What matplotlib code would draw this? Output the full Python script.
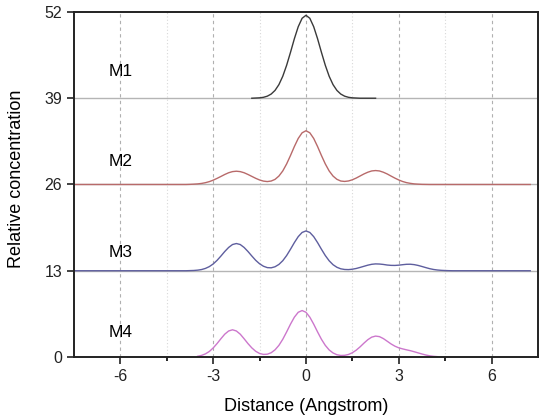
import numpy as np
import matplotlib
matplotlib.use("Agg")
import matplotlib.pyplot as plt

plt.rcParams['font.family'] = ['Liberation Sans', 'DejaVu Sans']
plt.rcParams['axes.unicode_minus'] = False

# sample grid (Angstrom) for the peak region
x_peak = np.arange(-3.75, 4.76, 0.125)

m1 = [0, 0, 0, 0, 0, 0, 0, 0, 0, 0, 0, 0, 0, 0, 0, 0, 0,
      0.03, 0.06, 0.14, 0.31, 0.63, 1.18, 2.05, 3.31, 4.97, 6.92, 8.97, 10.78, 12.05,
      12.5,
      12.05, 10.78, 8.97, 6.92, 4.97, 3.31, 2.05, 1.18, 0.63, 0.31, 0.14, 0.06, 0.03,
      0, 0, 0, 0, 0, 0, 0, 0, 0, 0, 0, 0, 0, 0, 0, 0, 0, 0, 0, 0, 0, 0, 0, 0, 0]
m2 = [0.02, 0.05, 0.09, 0.16, 0.27, 0.43, 0.65, 0.92, 1.21, 1.51, 1.77, 1.94,
      2.0, 1.94, 1.77, 1.51, 1.22, 0.93, 0.68, 0.51, 0.44, 0.52, 0.77, 1.27,
      2.04, 3.10, 4.37, 5.72, 6.94, 7.79, 8.1, 7.79, 6.94, 5.72, 4.37, 3.10,
      2.04, 1.27, 0.78, 0.52, 0.46, 0.53, 0.71, 0.97, 1.28, 1.59, 1.85, 2.04,
      2.1, 2.04, 1.85, 1.59, 1.27, 0.96, 0.68, 0.45, 0.28, 0.17, 0.09, 0.05,
      0.02, 0.01, 0, 0, 0, 0, 0, 0, 0]
m3 = [0.02, 0.04, 0.09, 0.18, 0.35, 0.62, 1.02, 1.56, 2.21, 2.90, 3.51, 3.95,
      4.10, 3.95, 3.51, 2.90, 2.22, 1.57, 1.05, 0.68, 0.47, 0.44, 0.60, 0.95,
      1.51, 2.29, 3.24, 4.24, 5.14, 5.77, 6.0, 5.77, 5.14, 4.24, 3.24, 2.29,
      1.50, 0.91, 0.52, 0.29, 0.19, 0.17, 0.23, 0.34, 0.50, 0.67, 0.84, 0.97,
      1.03, 1.01, 0.95, 0.86, 0.81, 0.80, 0.84, 0.91, 0.97, 0.98, 0.92, 0.80,
      0.64, 0.47, 0.31, 0.19, 0.11, 0.06, 0.03, 0.01, 0]
m4 = [0.02, 0.05, 0.11, 0.24, 0.47, 0.83, 1.36, 2.02, 2.75, 3.44, 3.92, 4.10,
      3.92, 3.44, 2.75, 2.02, 1.37, 0.86, 0.53, 0.39, 0.42, 0.64, 1.08, 1.75,
      2.67, 3.78, 4.95, 6.00, 6.74, 7.0, 6.74, 6.00, 4.95, 3.78, 2.67, 1.75,
      1.06, 0.61, 0.34, 0.23, 0.25, 0.38, 0.64, 1.03, 1.53, 2.09, 2.61, 2.99,
      3.15, 3.07, 2.78, 2.38, 1.97, 1.63, 1.38, 1.22, 1.08, 0.95, 0.79, 0.62,
      0.45, 0.30, 0.18, 0.10, 0.05, 0.03, 0.01, 0, 0]

names = ['M1', 'M2', 'M3', 'M4']
offsets = [39, 26, 13, 0]
label_y = [43, 29.5, 15.7, 3.7]
colors = ['#3a3a3a', '#b86a6a', '#5e5e9e', '#cc77cc']
# x span where each coloured trace is drawn
spans = [(-1.75, 2.3), (-7.5, 7.3), (-7.5, 7.3), (-3.5, 4.25)]

# pad the flat parts with zeros so the traces reach the frame
n_left, n_right = 30, 20
x = np.concatenate([-7.5 + 0.125 * np.arange(n_left), x_peak,
                    4.875 + 0.125 * np.arange(n_right)])

fig = plt.figure(figsize=(5.5, 4.19), dpi=100)
ax = fig.add_axes([0.1345, 0.148, 0.8436, 0.8234])

for xv in [-6, -3, 0, 3, 6]:
    ax.axvline(xv, color='#b0b0b0', lw=0.8, ls=(0, (3, 3)), zorder=0)
for xv in [-4.5, -1.5, 1.5, 4.5]:
    ax.axvline(xv, color='#d8d8d8', lw=0.8, ls=(0, (1, 2)), zorder=0)

for off in offsets[:3]:
    ax.axhline(off, color='#b5b5b5', lw=1.0, zorder=1)

for name, vals, off, ly, c, (a, b) in zip(names, [m1, m2, m3, m4], offsets,
                                           label_y, colors, spans):
    y = np.concatenate([np.zeros(n_left), vals, np.zeros(n_right)]) + off
    keep = (x >= a) & (x <= b)
    ax.plot(x[keep], y[keep], color=c, lw=1.0, zorder=2)
    ax.text(-6, ly, name, ha='center', va='center', fontsize=12.5)

ax.set_xlim(-7.5, 7.5)
ax.set_ylim(0, 52)
ax.set_xticks([-6, -3, 0, 3, 6])
ax.set_xticks([-4.5, -1.5, 1.5, 4.5], minor=True)
ax.set_yticks([0, 13, 26, 39, 52])
ax.tick_params(axis='both', which='major', direction='out', length=5,
               width=1.2, labelsize=11.5, colors='#222222')
ax.tick_params(axis='x', which='minor', direction='out', length=3, width=1.2)
for s in ax.spines.values():
    s.set_linewidth(1.4)
    s.set_color('#222222')

ax.set_xlabel('Distance (Angstrom)', fontsize=13, labelpad=10)
ax.set_ylabel('Relative concentration', fontsize=13, labelpad=12)
ax.yaxis.set_label_coords(-0.105, 0.515)

fig.savefig('out.png', dpi=100)
